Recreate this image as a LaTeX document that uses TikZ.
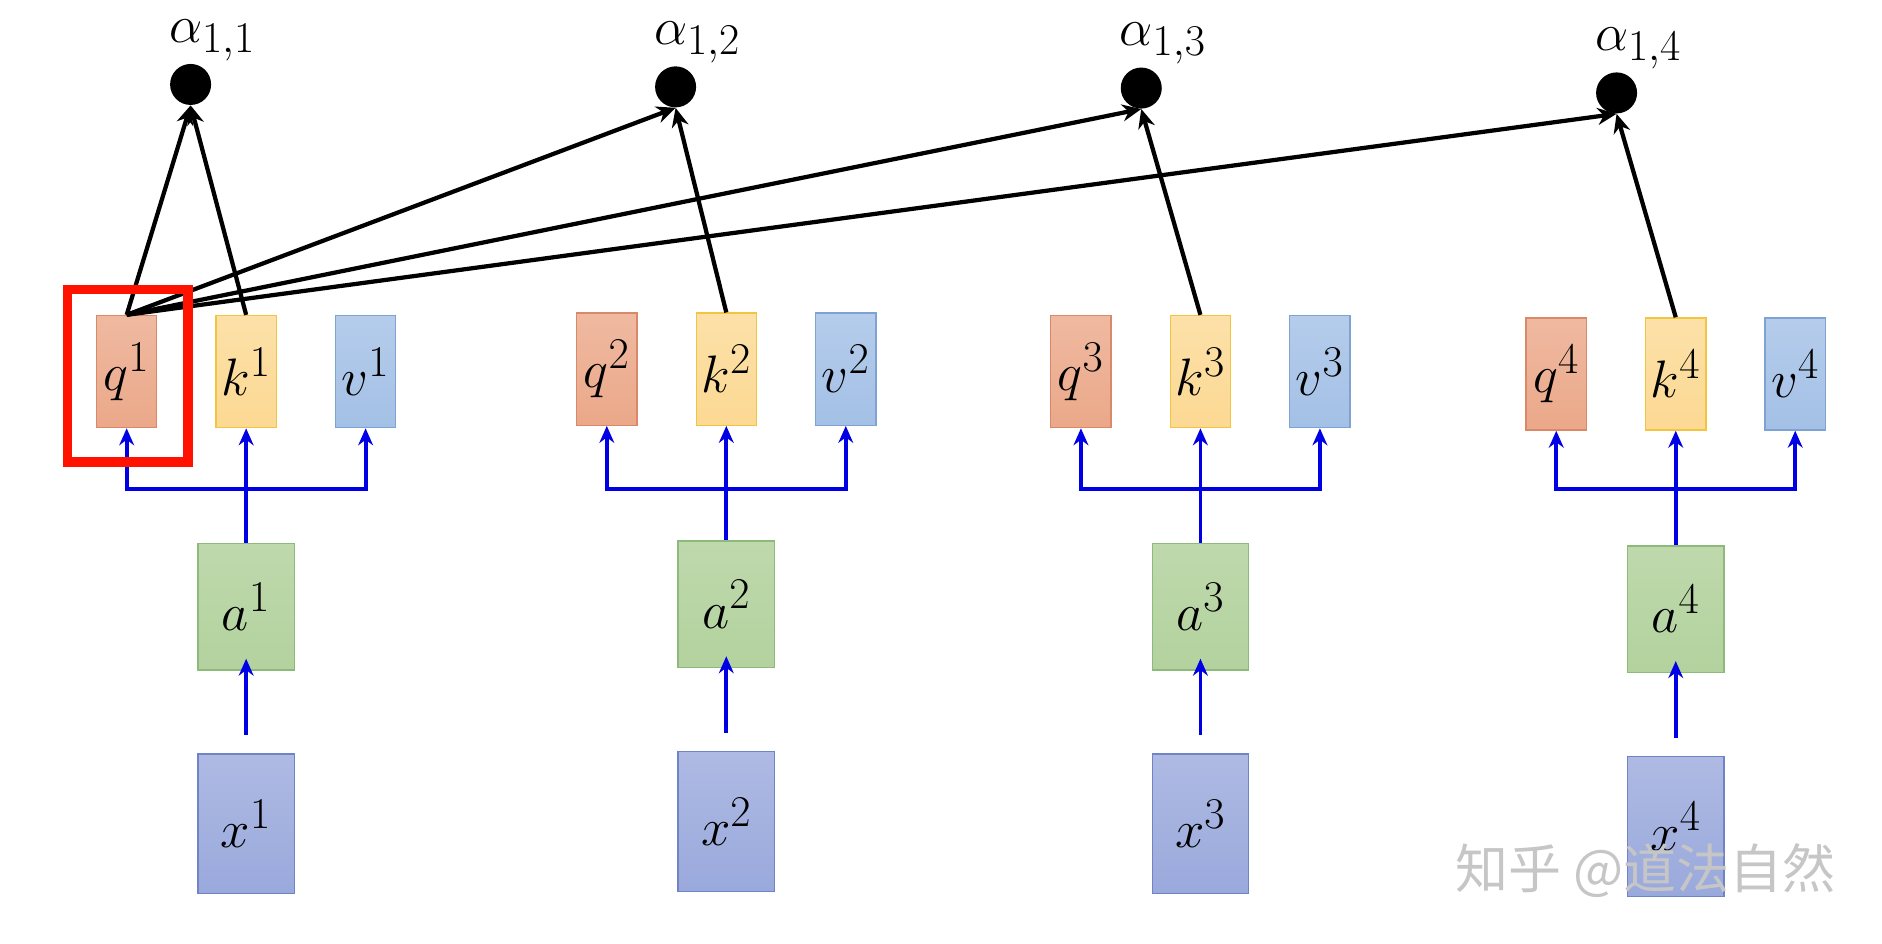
\documentclass[tikz,border=0pt]{standalone}
\usepackage{fontspec}
\newfontfamily\cjk{Noto Sans CJK SC}
\usetikzlibrary{arrows.meta,positioning}
\definecolor{qfill}{HTML}{EBA889}
\definecolor{qdraw}{HTML}{D9896A}
\definecolor{kfill}{HTML}{FCD993}
\definecolor{kdraw}{HTML}{F2C440}
\definecolor{vfill}{HTML}{A3C0E6}
\definecolor{vdraw}{HTML}{7EA3D3}
\definecolor{afill}{HTML}{B3D29E}
\definecolor{adraw}{HTML}{8DB97A}
\definecolor{xfill}{HTML}{9AA9DC}
\definecolor{xdraw}{HTML}{6F83C6}
\begin{document}
\begin{tikzpicture}[x=0.02cm,y=-0.02cm,
      vec/.style={draw, line width=0.6pt, minimum width=1cm, minimum height=1.86cm, inner sep=0pt, font=\fontsize{30}{36}\selectfont},
      inp/.style={draw, line width=0.6pt, minimum width=1.6cm, inner sep=0pt, font=\fontsize{32}{38}\selectfont},
      dot/.style={circle, fill=black, minimum size=0.68cm, inner sep=0pt},
      att/.style={-{Stealth[length=9pt,width=8pt]}, line width=2pt},
      feed/.style={-{Stealth[length=8pt,width=7pt]}, blue!90!black, line width=1.8pt}
      ]
      \useasboundingbox (0,0) rectangle (1560,782);
      \foreach \i/\cx/\qy/\dx/\dy in {1/105/308/158/70, 2/503/306/560/72, 3/896/308/946/73, 4/1290/310/1340/77}{
        \node[vec, top color=qfill!80!white, bottom color=qfill, draw=qdraw] (q\i) at (\cx,\qy) {$q^\i$};
        \node[vec, top color=kfill!80!white, bottom color=kfill, draw=kdraw, right=0.96cm of q\i] (k\i) {$k^\i$};
        \node[vec, top color=vfill!80!white, bottom color=vfill, draw=vdraw, right=0.96cm of k\i] (v\i) {$v^\i$};
        \node[inp, minimum height=2.1cm, top color=afill!85!white, bottom color=afill, draw=adraw] (a\i) at ([yshift=-3.9cm]k\i.center) {$a^\i$};
        \node[inp, minimum height=2.32cm, top color=xfill!80!white, bottom color=xfill, draw=xdraw] (x\i) at ([yshift=-3.6cm]a\i.center) {$x^\i$};
        \node[dot] (al\i) at (\dx,\dy) {};
        \node[font=\fontsize{30}{36}\selectfont, anchor=south] (lab\i) at ([xshift=0.36cm,yshift=-0.08cm]al\i.north) {$\alpha_{1,\i}$};
        % q k v from a
        \draw[feed] (a\i.north) -- (k\i.south);
        \draw[feed] (a\i.north |- 0,405) -| (q\i.south);
        \draw[feed] (a\i.north |- 0,405) -| (v\i.south);
        \draw[feed] ([yshift=0.3cm]x\i.north) -- ([yshift=0.2cm]a\i.south);
        % k to alpha
        \draw[att] (k\i.north) -- (al\i.south);
        \draw[att] (q1.north) -- (al\i.south);
      }
      \draw[red!85!orange, line width=4.5pt] (56,240) rectangle (156,383);
      \node[gray!45, font=\cjk\fontsize{25}{30}\selectfont, anchor=east] (mark) at (1528,722) {知乎 @道法自然};
    \end{tikzpicture}
\end{document}
